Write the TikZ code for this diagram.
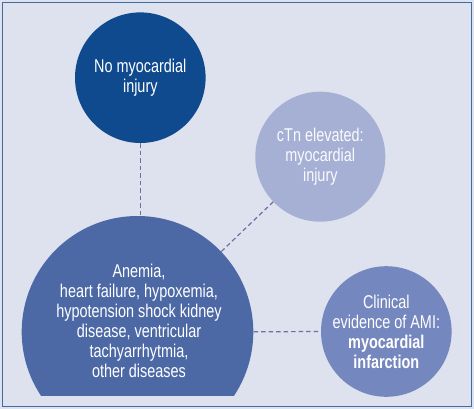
\documentclass[tikz,border=0pt]{standalone}
\usepackage{fontspec}
\setmainfont[FakeStretch=0.78]{Liberation Sans}
\definecolor{bgcol}{HTML}{DEE1EE}
\definecolor{framecol}{HTML}{3F6CA3}
\definecolor{darkcirc}{HTML}{0F4A8E}
\definecolor{lightcirc}{HTML}{A5B0D4}
\definecolor{bigcirc}{HTML}{4C69A6}
\definecolor{midcirc}{HTML}{7587BF}
\definecolor{dashcol}{HTML}{6A739E}
\begin{document}
\begin{tikzpicture}[x=1pt,y=-1pt,
  bubble/.style={circle,inner sep=0pt,align=center,text=white,
    font=\fontsize{18.5}{20}\selectfont},
  link/.style={draw=dashcol,line width=1.2pt,dash pattern=on 4.5pt off 3pt}]
\useasboundingbox (0,0) rectangle (474,409);
\fill[bgcol] (0,0) rectangle (474,409);
\draw[framecol,line width=1.5pt] (2.5,2.5) rectangle (471.5,406.5);
\node[bubble,fill=darkcirc,minimum size=130.6pt] (n1) at (140.3,77.7) {No myocardial\\injury};
\node[bubble,fill=lightcirc,minimum size=130pt,text=white!95!lightcirc] (n2) at (320.3,156.7) {cTn elevated:\\myocardial\\injury};
\node[bubble,fill=midcirc,minimum size=130.6pt] (n4) at (386.3,331.5) {Clinical\\evidence of AMI:\\\textbf{myocardial}\\\textbf{infarction}};
\begin{scope}
\clip (0,0) rectangle (474,395.5);
\node[circle,fill=bigcirc,minimum size=231.6pt,inner sep=0pt] (big) at (137.5,331.8) {};
\end{scope}
\node[bubble,anchor=center] (bigtext) at (139,321) {Anemia,\\heart failure, hypoxemia,\\hypotension shock kidney\\disease, ventricular\\tachyarrhytmia,\\other diseases};
\draw[link] (n1.south) -- (n1.south |- big.north);
\draw[link] (big) -- (n2);
\draw[link] (big.east) -- (n4.west);
\end{tikzpicture}
\end{document}
